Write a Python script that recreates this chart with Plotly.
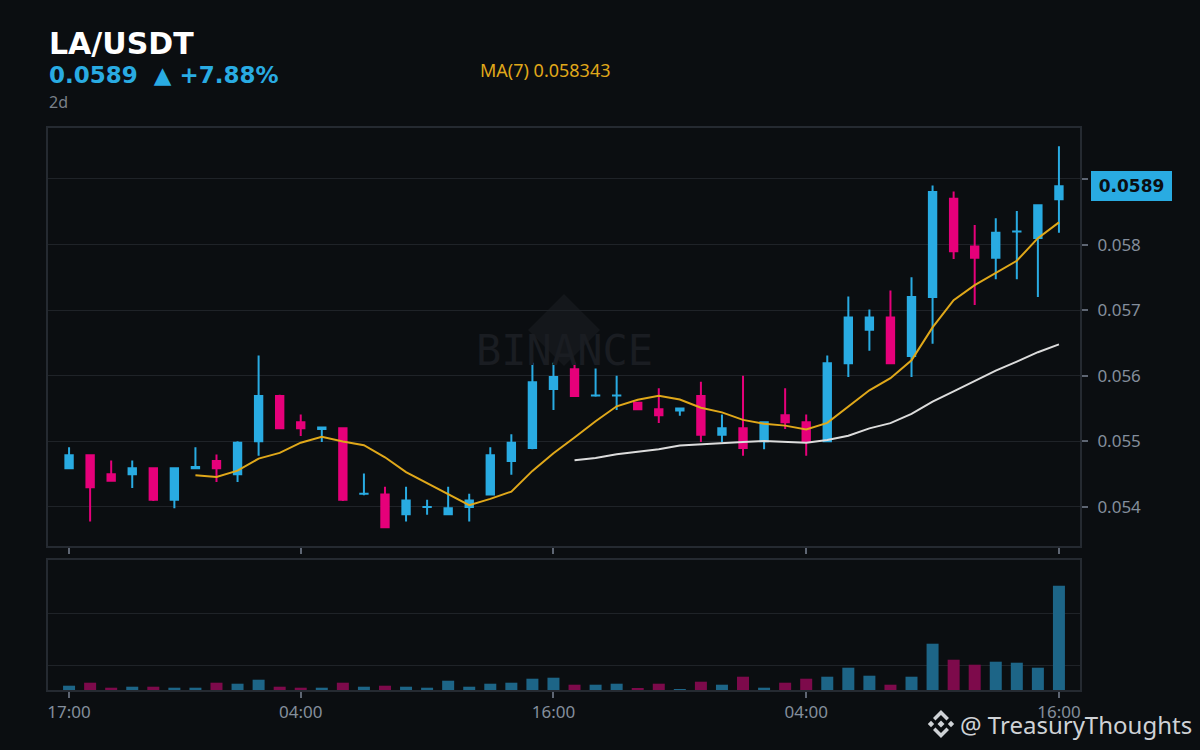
import pandas as pd
import plotly.graph_objects as go

# ---------------- data ----------------
times = pd.date_range("2025-06-10 17:00", periods=48, freq="h")

open_ = [0.05459, 0.05479, 0.05450, 0.05450, 0.05459, 0.05411, 0.05459, 0.05470,
         0.05450, 0.05500, 0.05569, 0.05529, 0.05519, 0.05520, 0.05420, 0.05419,
         0.05389, 0.05400, 0.05389, 0.05400, 0.05419, 0.05470, 0.05490, 0.05580,
         0.05610, 0.05570, 0.05570, 0.05559, 0.05549, 0.05547, 0.05569, 0.05510,
         0.05520, 0.05500, 0.05540, 0.05529, 0.05500, 0.05619, 0.05670, 0.05689,
         0.05630, 0.05720, 0.05870, 0.05797, 0.05780, 0.05820, 0.05810, 0.05869]
high = [0.05491, 0.05480, 0.05471, 0.05471, 0.05460, 0.05460, 0.05491, 0.05480,
        0.05500, 0.05631, 0.05571, 0.05541, 0.05521, 0.05521, 0.05451, 0.05431,
        0.05431, 0.05411, 0.05431, 0.05420, 0.05491, 0.05511, 0.05620, 0.05620,
        0.05620, 0.05611, 0.05600, 0.05560, 0.05581, 0.05550, 0.05591, 0.05541,
        0.05600, 0.05530, 0.05581, 0.05541, 0.05631, 0.05721, 0.05701, 0.05730,
        0.05750, 0.05890, 0.05881, 0.05830, 0.05840, 0.05851, 0.05861, 0.05950]
low = [0.05458, 0.05378, 0.05439, 0.05429, 0.05409, 0.05398, 0.05458, 0.05438,
       0.05438, 0.05478, 0.05519, 0.05508, 0.05499, 0.05409, 0.05418, 0.05369,
       0.05378, 0.05388, 0.05389, 0.05378, 0.05418, 0.05449, 0.05488, 0.05548,
       0.05568, 0.05568, 0.05548, 0.05548, 0.05528, 0.05539, 0.05499, 0.05499,
       0.05478, 0.05488, 0.05519, 0.05478, 0.05499, 0.05598, 0.05638, 0.05618,
       0.05598, 0.05649, 0.05778, 0.05708, 0.05747, 0.05747, 0.05720, 0.05818]
close = [0.05479, 0.05430, 0.05440, 0.05459, 0.05411, 0.05459, 0.05461, 0.05459,
         0.05498, 0.05569, 0.05520, 0.05520, 0.05521, 0.05411, 0.054201, 0.05369,
         0.05410, 0.054001, 0.05398, 0.05410, 0.05479, 0.05498, 0.05590, 0.05598,
         0.05569, 0.055701, 0.055701, 0.05549, 0.05540, 0.05550, 0.05510, 0.05520,
         0.05490, 0.05529, 0.05529, 0.05500, 0.05619, 0.05689, 0.05689, 0.05619,
         0.05720, 0.05880, 0.05790, 0.05780, 0.05818, 0.058201, 0.05860, 0.05889]
volume_k = [43, 73, 23, 33, 33, 23, 23, 73, 63, 103, 33, 23, 23, 73, 33, 43,
            33, 23, 93, 33, 63, 73, 113, 123, 53, 53, 63, 13, 63, 3, 83, 53,
            133, 23, 73, 113, 133, 223, 143, 53, 133, 463, 303, 253, 283, 273, 223, 1043]

tick_times = ["2025-06-10 17:00", "2025-06-11 04:00", "2025-06-11 16:00",
              "2025-06-12 04:00", "2025-06-12 16:00"]
tick_text = ["17:00", "04:00", "16:00", "04:00", "16:00"]
price_ticks = [0.054, 0.055, 0.056, 0.057, 0.058, 0.059]
price_tick_text = ["0.054", "0.055", "0.056", "0.057", "0.058", ""]

symbol = "LA/USDT"
last_price = "0.0589"
change_text = "+7.88%"
period_text = "2d"
ma7_label = "MA(7) 0.058343"

# ---------------- styles ----------------
BG = "#0b0e11"
UP = "#29abe2"
DOWN = "#e6007a"
UP_VOL = "#1d6587"
DOWN_VOL = "#7d0a4b"
GRID = "#1f2328"
BORDER = "#252a31"
TICK = "#5e6673"
LABEL = "#848e9c"
MA7_C = "#e0a81a"
MA25_C = "#dcdcdc"

W, H = 1200, 750
L, R, T, B = 48, 1080, 128, 690


def px(x):
    return (x - L) / (R - L)


def py(y):
    return (B - y) / (B - T)


closes = pd.Series(close)
ma7 = closes.rolling(7).mean()
ma25 = closes.rolling(25).mean()

vol_colors = [UP_VOL if c >= o else DOWN_VOL for o, c in zip(open_, close)]

fig = go.Figure()
fig.add_trace(go.Candlestick(
    x=times, open=open_, high=high, low=low, close=close,
    increasing=dict(line=dict(color=UP, width=2), fillcolor=UP),
    decreasing=dict(line=dict(color=DOWN, width=2), fillcolor=DOWN),
    whiskerwidth=0, xaxis="x", yaxis="y", showlegend=False, name="LA/USDT",
))
fig.add_trace(go.Scatter(x=times, y=ma25, mode="lines",
                         line=dict(color=MA25_C, width=2), xaxis="x", yaxis="y",
                         showlegend=False, name="MA(25)"))
fig.add_trace(go.Scatter(x=times, y=ma7, mode="lines",
                         line=dict(color=MA7_C, width=2), xaxis="x", yaxis="y",
                         showlegend=False, name="MA(7)"))
fig.add_trace(go.Bar(x=times, y=volume_k, marker=dict(color=vol_colors, line=dict(width=0)),
                     xaxis="x2", yaxis="y2", showlegend=False, name="Volume"))

t0 = times[0] - pd.Timedelta(hours=1)
t1 = times[-1] + pd.Timedelta(hours=1)

axis_common = dict(showline=True, mirror=True, linecolor=BORDER, linewidth=2,
                   zeroline=False)

fig.update_layout(
    width=W, height=H,
    paper_bgcolor=BG, plot_bgcolor=BG,
    margin=dict(l=L, r=W - R, t=T, b=H - B),
    boxgap=0.5, bargap=0.43,
    font=dict(family="Noto Sans", color=LABEL, size=17),
    xaxis=dict(domain=[0, 1], anchor="y", range=[t0, t1], showgrid=False,
               tickvals=tick_times, ticktext=tick_text, showticklabels=False,
               ticks="outside", ticklen=6, tickwidth=2, tickcolor=TICK,
               rangeslider=dict(visible=False), **axis_common),
    yaxis=dict(domain=[py(546), 1], anchor="x", side="right",
               range=[0.053405, 0.059777], tickvals=price_ticks,
               ticktext=price_tick_text, showgrid=True, gridcolor=GRID, gridwidth=1,
               ticks="outside", ticklen=6, tickwidth=2, tickcolor=TICK,
               ticklabelstandoff=6,
               tickfont=dict(family="Noto Sans", size=17, color=LABEL),
               **axis_common),
    xaxis2=dict(domain=[0, 1], anchor="y2", matches="x", showgrid=False,
                tickvals=tick_times, ticktext=tick_text,
                ticks="outside", ticklen=6, tickwidth=2, tickcolor=TICK,
                tickfont=dict(family="Noto Sans", size=17, color=LABEL),
                **axis_common),
    yaxis2=dict(domain=[0, py(560)], anchor="x2", side="right",
                range=[0, 1300], tickvals=[250, 770], showticklabels=False,
                showgrid=True, gridcolor=GRID, gridwidth=1, ticks="",
                **axis_common),
)

annotations = [
    dict(text=f"<b>{symbol}</b>", x=px(47), y=py(43), xanchor="left", yanchor="middle",
         font=dict(family="DejaVu Sans", size=30, color="#ffffff")),
    dict(text=f"<b>{last_price}\u00a0\u00a0▲ {change_text}</b>", x=px(47), y=py(75),
         xanchor="left", yanchor="middle",
         font=dict(family="DejaVu Sans", size=23, color=UP)),
    dict(text=period_text, x=px(47), y=py(102), xanchor="left", yanchor="middle",
         font=dict(family="Noto Sans", size=16, color="#7a808a")),
    dict(text=ma7_label, x=px(478), y=py(70), xanchor="left",
         yanchor="middle", font=dict(family="Noto Sans", size=18, color=MA7_C)),
    dict(text="BINANCE", x=px(564), y=py(350), xanchor="center", yanchor="middle",
         font=dict(family="DejaVu Sans Mono", size=42, color="#1a1d22")),
    dict(text="@ TreasuryThoughts", x=px(958), y=py(724), xanchor="left",
         yanchor="middle", font=dict(family="Noto Sans", size=24, color="#cfd2d6")),
    dict(text=f"<b>{last_price}</b>", x=px(1131), y=close[-1], xref="paper", yref="y",
         xanchor="center", yanchor="middle", showarrow=False,
         font=dict(family="DejaVu Sans", size=17, color=BG),
         bgcolor=UP, bordercolor=UP, borderpad=4, width=71, height=20),
]
for a in annotations:
    a.setdefault("xref", "paper")
    a.setdefault("yref", "paper")
    a.setdefault("showarrow", False)
fig.update_layout(annotations=annotations)


def poly(points, cx, cy):
    parts = []
    for i, (dx, dy) in enumerate(points):
        parts.append(("M" if i == 0 else "L") + f" {px(cx + dx):.5f} {py(cy + dy):.5f}")
    return " ".join(parts) + " Z"


def diamond(cx, cy, r):
    return poly([(0, -r), (r, 0), (0, r), (-r, 0)], cx, cy)


shapes = [
    dict(type="path", path=diamond(564, 330, 36), xref="paper", yref="paper",
         fillcolor="#14171b", line=dict(width=0), layer="below"),
]
lx, ly = 941, 724
logo_paths = [
    diamond(lx, ly, 3.5),
    diamond(lx - 10, ly, 3.2),
    diamond(lx + 10, ly, 3.2),
    poly([(0, -14), (8, -6), (5.5, -3.5), (0, -9), (-5.5, -3.5), (-8, -6)], lx, ly),
    poly([(0, 14), (8, 6), (5.5, 3.5), (0, 9), (-5.5, 3.5), (-8, 6)], lx, ly),
]
for p in logo_paths:
    shapes.append(dict(type="path", path=p, xref="paper", yref="paper",
                       fillcolor="#cfd2d6", line=dict(width=0), layer="above"))
fig.update_layout(shapes=shapes)

fig.write_html(
    "out.html",
    config={"displayModeBar": False},
    post_script="document.body.style.margin='0';document.body.style.background='#0b0e11';",
)
